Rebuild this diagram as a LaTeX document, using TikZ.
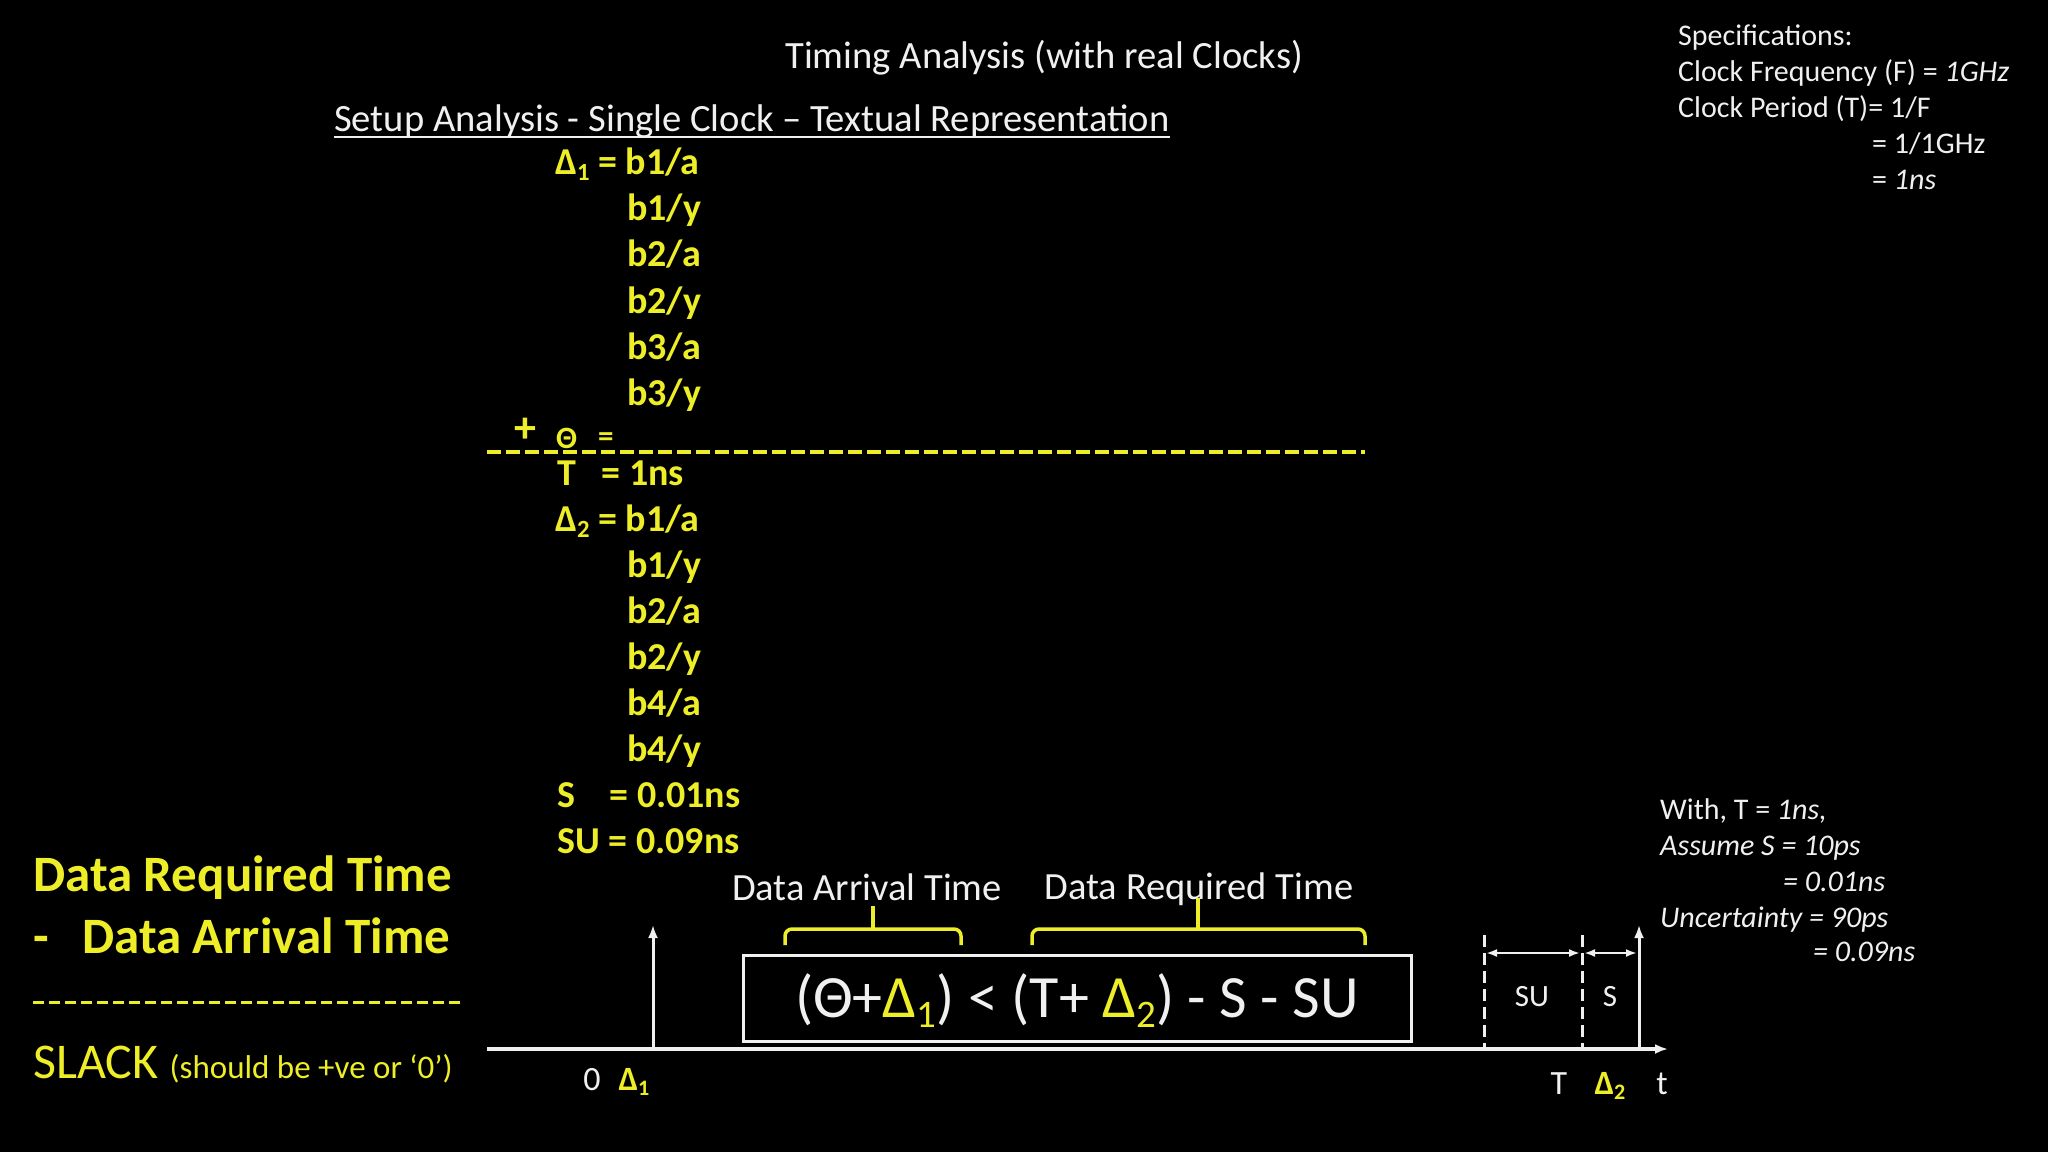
\documentclass[tikz,border=0pt]{standalone}
\usepackage{fontspec}
\setmainfont{Carlito}
\usetikzlibrary{arrows.meta}
\definecolor{ylw}{RGB}{238,238,40}
\definecolor{wht}{RGB}{240,240,240}
\newcommand{\lowsub}[1]{\raisebox{-0.35ex}{\scalebox{0.65}{#1}}}
\begin{document}
\begin{tikzpicture}[x=1pt,y=-1pt,
  txt/.style={inner sep=0pt, anchor=base west, text=wht},
  ttl/.style={txt, font=\fontsize{38.6}{42}\selectfont},
  yl/.style={txt, text=ylw, font=\bfseries\fontsize{38}{42}\selectfont},
  spec/.style={txt, font=\fontsize{30}{32}\selectfont},
  bigy/.style={txt, text=ylw, font=\bfseries\fontsize{51}{55}\selectfont},
  lbl/.style={inner sep=0pt, anchor=base, text=wht, font=\fontsize{38.5}{42}\selectfont},
  axl/.style={inner sep=0pt, anchor=base, text=wht, font=\fontsize{34}{38}\selectfont},
  axy/.style={inner sep=0pt, anchor=base, text=ylw, font=\bfseries\fontsize{34}{38}\selectfont},
  wline/.style={draw=wht, line width=3.5pt},
  tip/.style={-{Latex[length=13pt,width=10pt]}},
  dtip/.style={{Latex[length=11pt,width=8pt]}-{Latex[length=11pt,width=8pt]}},
  brace/.style={draw=ylw, line width=3.5pt, rounded corners=7pt},
  wdash/.style={draw=wht, line width=3pt, dash pattern=on 12pt off 6pt},
  ydash/.style={draw=ylw, line width=4pt, dash pattern=on 14pt off 5pt}
]
\fill[black] (0,0) rectangle (2048,1152);
\useasboundingbox (0,0) rectangle (2048,1152);

% titles
\node[ttl] (title) at (785,68) {Timing Analysis (with real Clocks)};
\node[ttl] (subtitle) at (334,131) {Setup Analysis - Single Clock – Textual Representation};
\draw[draw=wht, line width=2.5pt] ([yshift=-6pt]subtitle.base west) -- ([yshift=-6pt]subtitle.base east);

% specifications
\node[spec] (sp1) at (1678,45) {Specifications:};
\node[spec] (sp2) at (1678,81) {Clock Frequency (F) = \textit{1GHz}};
\node[spec] (sp3) at (1678,117) {Clock Period (T)= 1/F};
\node[spec] (sp4) at (1872,153) {= 1/1GHz};
\node[spec] (sp5) at (1872,189) {= \textit{1ns}};

% yellow list
\node[yl] (d1) at (555,174) {Δ\lowsub{1} = b1/a};
\node[yl] (l2) at (627,220) {b1/y};
\node[yl] (l3) at (627,266) {b2/a};
\node[yl] (l4) at (627,313) {b2/y};
\node[yl] (l5) at (627,359) {b3/a};
\node[yl] (l6) at (627,405) {b3/y};
\node[yl, font=\bfseries\fontsize{44}{46}\selectfont] (plus) at (514,442) {+};
\node[yl, font=\bfseries\fontsize{31}{32}\selectfont] (theta) at (556,448) {Θ};
\node[yl, font=\bfseries\fontsize{31}{32}\selectfont] (teq) at (598,446) {=};
\coordinate (dl) at (487,452);
\coordinate (dr) at (1365,452);
\draw[ydash] (dl) -- (dr);
\node[yl] (tline) at (557,485) {T\ \ \ = 1ns};
\node[yl] (d2) at (555,531) {Δ\lowsub{2} = b1/a};
\node[yl] (m2) at (627,577) {b1/y};
\node[yl] (m3) at (627,623) {b2/a};
\node[yl] (m4) at (627,669) {b2/y};
\node[yl] (m5) at (627,715) {b4/a};
\node[yl] (m6) at (627,761) {b4/y};
\node[yl] (sline) at (557,807) {S\ \ \ \ = 0.01ns};
\node[yl] (suline) at (557,853) {SU = 0.09ns};

% left block
\node[bigy] (drt) at (33,891) {Data Required Time};
\node[bigy] (minus) at (33,953) {-};
\node[bigy] (dat) at (82,953) {Data Arrival Time};
\coordinate (ll) at (33,1002);
\coordinate (lr) at (460,1002);
\draw[draw=ylw, line width=3pt, dash pattern=on 11pt off 5pt] (ll) -- (lr);
\node[txt, text=ylw, font=\fontsize{50}{54}\selectfont] (slack) at (33,1078) {SLACK \fontsize{33}{36}\selectfont(should be +ve or ‘0’)};

% bottom right notes
\node[spec] (w1) at (1660,819) {With, T = \textit{1ns,}};
\node[spec] (w2) at (1660,855) {\textit{Assume S = 10ps}};
\node[spec] (w3) at (1783,891) {\textit{= 0.01ns}};
\node[spec] (w4) at (1660,927) {\textit{Uncertainty = 90ps}};
\node[spec] (w5) at (1813,961) {\textit{= 0.09ns}};

% time axis
\coordinate (ax0) at (487,1049);
\coordinate (ax1) at (1668,1049);
\draw[wline, tip] (ax0) -- (ax1);
\coordinate (c1b) at (653,1049);
\coordinate (c1t) at (653,925);
\draw[draw=wht, line width=3pt, tip] (c1b) -- (c1t);
\coordinate (c2b) at (1639,1049);
\coordinate (c2t) at (1639,925);
\draw[draw=wht, line width=3pt, tip] (c2b) -- (c2t);

% dashed SU/S markers
\coordinate (su1t) at (1484,935);
\coordinate (su1b) at (1484,1049);
\coordinate (su2t) at (1582,935);
\coordinate (su2b) at (1582,1049);
\draw[wdash] (su1t) -- (su1b);
\draw[wdash] (su2t) -- (su2b);
\coordinate (a1) at (1486,953);
\coordinate (a2) at (1580,953);
\coordinate (a3) at (1584,953);
\coordinate (a4) at (1637,953);
\draw[draw=wht, line width=2.5pt, dtip] (a1) -- (a2);
\draw[draw=wht, line width=2.5pt, dtip] (a3) -- (a4);
\node[lbl, font=\fontsize{31}{34}\selectfont] (sulbl) at (1532,1006) {SU};
\node[lbl, font=\fontsize{31}{34}\selectfont] (slbl) at (1610,1006) {S};

% axis labels
\node[axl] (zero) at (592,1090) {0};
\node[axy] (dl1) at (634,1090) {Δ\lowsub{1}};
\node[axl] (tT) at (1559,1094) {T};
\node[axy] (dl2) at (1610,1094) {Δ\lowsub{2}};
\node[axl] (tt) at (1662,1094) {t};

% formula box
\node[draw=wht, line width=3pt, minimum width=668pt, minimum height=86pt, inner sep=0pt] (box) at (1077,998) {};
\node[inner sep=0pt, text=wht, font=\fontsize{60}{64}\selectfont] (frm) at (1077,1001)
  {(Θ+{\color{ylw}Δ\lowsub{1}}) < (T+ {\color{ylw}Δ\lowsub{2}}) - S - SU};

% braces
\coordinate (b1m) at (873,929);
\coordinate (b1s) at (873,906);
\draw[brace] (785,945) |- (961,929) -- (961,945);
\draw[draw=ylw, line width=3.5pt] (b1m) -- (b1s);
\node[lbl] (arrlbl) at (867,900) {Data Arrival Time};
\coordinate (b2m) at (1198,929);
\coordinate (b2s) at (1198,898);
\draw[brace] (1032,945) |- (1365,929) -- (1365,945);
\draw[draw=ylw, line width=3.5pt] (b2m) -- (b2s);
\node[lbl] (reqlbl) at (1199,899) {Data Required Time};
\end{tikzpicture}
\end{document}
